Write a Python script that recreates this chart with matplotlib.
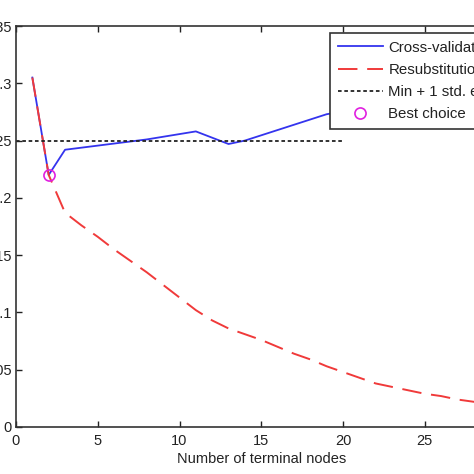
import numpy as np
import matplotlib
matplotlib.use("Agg")
import matplotlib.pyplot as plt

plt.rcParams['font.family'] = ['Liberation Sans', 'DejaVu Sans']

# cross-validation error (blue), resubstitution error (red)
cv_nodes = [1, 2, 3, 8, 11, 13, 14, 19, 22, 25, 29]
cv_cost = [0.305, 0.220, 0.242, 0.251, 0.258, 0.247, 0.250, 0.273, 0.280, 0.286, 0.292]

resub_nodes = list(range(1, 30))
resub_cost = [0.305, 0.220, 0.187, 0.176, 0.166, 0.155, 0.145, 0.135, 0.124, 0.113,
              0.102, 0.093, 0.086, 0.081, 0.076, 0.070, 0.064, 0.059, 0.053, 0.048,
              0.043, 0.038, 0.035, 0.032, 0.029, 0.027, 0.024, 0.022, 0.019]

min_se_x = [0, 20]
min_se_y = [0.2495, 0.2495]

best_x = 2
best_y = 0.220

xticks = [0, 5, 10, 15, 20, 25, 30]
yticks = [0, 0.05, 0.1, 0.15, 0.2, 0.25, 0.3, 0.35]

fig = plt.figure(figsize=(4.74, 4.74), dpi=100)
ax = fig.add_axes([16 / 474, 47 / 474, 490.5 / 474, 401 / 474])

ax.plot(cv_nodes, cv_cost, color='#3434ee', lw=1.3, label='Cross-validation')
ax.plot(resub_nodes, resub_cost, color='#f03a3a', lw=1.4, dashes=(10, 5),
        label='Resubstitution')
ax.plot(min_se_x, min_se_y, color='#222222', lw=1.3, dashes=(2, 1.5),
        label='Min + 1 std. err.')
ax.plot(best_x, best_y, 'o', mfc='none', mec='#e020e0', ms=8, mew=1.2,
        linestyle='none', label='Best choice')

ax.set_xlim(0, 30)
ax.set_ylim(0, 0.35)
ax.set_xticks(xticks)
ax.set_yticks(yticks)
ax.set_xticklabels([str(t) for t in xticks])
ax.set_yticklabels(['0', '0.05', '0.1', '0.15', '0.2', '0.25', '0.3', '0.35'])
ax.tick_params(direction='in', length=4, width=1, top=True, right=True,
               labelsize=10.5, colors='#222222')
ax.tick_params(axis='x', pad=5)
ax.tick_params(axis='y', pad=3)
for s in ax.spines.values():
    s.set_color('#333333')
    s.set_linewidth(1.2)

ax.set_xlabel('Number of terminal nodes', fontsize=10.5, color='#222222', labelpad=3)

leg = ax.legend(loc='upper left', bbox_to_anchor=(330 / 474, 441 / 474),
                bbox_transform=fig.transFigure, borderaxespad=0, fontsize=10.8,
                frameon=True, framealpha=1, fancybox=False, handlelength=3.0,
                borderpad=0.5, labelspacing=0.55, handletextpad=0.4)
leg.get_frame().set_edgecolor('#333333')
leg.get_frame().set_linewidth(1.2)
for t in leg.get_texts():
    t.set_color('#222222')

fig.savefig('out.png', dpi=100)
